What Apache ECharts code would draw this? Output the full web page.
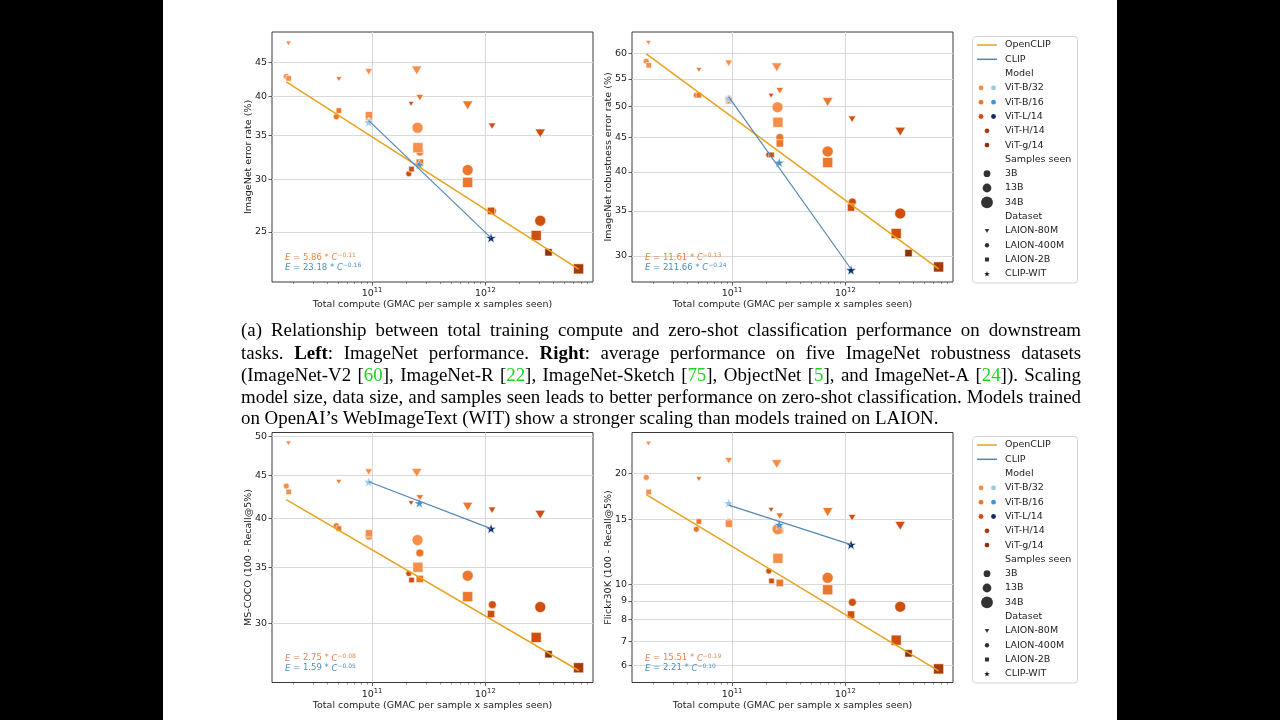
<!DOCTYPE html>
<html>
<head>
<meta charset="utf-8">
<script src="https://cdn.jsdelivr.net/npm/echarts@6.0.0/dist/echarts.min.js"></script>
<style>
html,body{margin:0;padding:0;background:#000;width:1280px;height:720px;overflow:hidden}
#page{position:absolute;left:163px;top:0;width:954px;height:720px;background:#fff}
#chart{position:absolute;left:0;top:0;width:1280px;height:720px}
</style>
</head>
<body>
<div id="page"></div>
<div id="chart"></div>
<script>
// ---------------- DATA ----------------
const runModel = ['ViT-B/32','ViT-B/32','ViT-B/32','ViT-B/16','ViT-B/16','ViT-B/16','ViT-B/32','ViT-B/32','ViT-B/32',
  'ViT-L/14','ViT-L/14','ViT-L/14','ViT-B/16','ViT-B/16','ViT-B/16','ViT-B/32','ViT-B/32','ViT-B/32',
  'ViT-B/16','ViT-B/16','ViT-B/16','ViT-L/14','ViT-L/14','ViT-L/14','ViT-L/14','ViT-L/14','ViT-L/14','ViT-g/14','ViT-H/14'];
const runSamples = ['3B','3B','3B','3B','3B','3B','13B','13B','13B','3B','3B','3B','13B','13B','13B','34B','34B','34B',
  '34B','34B','34B','13B','13B','13B','34B','34B','34B','13B','34B'];
const runDataset = ['LAION-80M','LAION-400M','LAION-2B','LAION-80M','LAION-400M','LAION-2B','LAION-80M','LAION-400M','LAION-2B',
  'LAION-80M','LAION-400M','LAION-2B','LAION-80M','LAION-400M','LAION-2B','LAION-80M','LAION-400M','LAION-2B',
  'LAION-80M','LAION-400M','LAION-2B','LAION-80M','LAION-400M','LAION-2B','LAION-80M','LAION-400M','LAION-2B','LAION-2B','LAION-2B'];
const runCompute = [1.83e10,1.75e10,1.84e10, 5.1e10,4.84e10,5.1e10, 9.35e10,9.4e10,9.4e10,
  2.21e11,2.11e11,2.23e11, 2.64e11,2.64e11,2.64e11, 2.48e11,2.52e11,2.54e11,
  6.98e11,6.98e11,6.98e11, 1.146e12,1.153e12,1.122e12, 3.05e12,3.05e12,2.81e12, 3.61e12, 6.65e12];

const imagenetErr = [48.1,42.9,42.6, 42.5,37.3,38.1, 43.6,37.2,37.5, 39.0,30.6,31.1, 39.85,33.0,31.8, 43.8,35.9,33.5,
  38.8,31.0,29.7, 36.1,26.9,26.9, 35.2,26.0,24.7, 23.3,22.0];
const robustErr = [62.2,58.4,57.6, 56.7,52.0,52.0, 58.0,51.3,51.1, 51.9,42.4,42.4, 52.8,45.0,44.1, 57.2,49.9,47.4,
  50.8,42.9,41.3, 47.9,36.1,35.4, 45.9,34.7,32.4, 30.3,28.9];
const cocoErr = [49.1,43.7,43.0, 44.2,39.2,38.9, 45.4,38.1,38.4, 41.7,34.4,33.8, 42.3,36.4,33.9, 45.3,37.7,35.0,
  41.3,34.2,32.3, 40.9,31.6,30.8, 40.4,31.4,28.9, 27.6,26.6];
const flickrErr = [24.1,19.5,17.8, 19.3,14.1,14.8, 21.65,14.7,14.6, 15.9,10.85,10.2, 15.3,14.0,10.07, 21.2,14.1,11.75,
  15.7,10.4,9.65, 15.15,8.92,8.26, 14.4,8.68,7.04, 6.48,5.88];

const clipModel = ['ViT-B/32','ViT-B/16','ViT-L/14'];
const clipCompute = [9.35e10, 2.61e11, 1.122e12];
const clipImagenet = [36.6, 31.6, 24.5];
const clipRobust = [51.4, 41.3, 28.6];
const clipCoco = [44.2, 41.7, 38.9];
const clipFlickr = [16.6, 14.5, 12.8];

const fitX = [1.75e10, 6.65e12];
const clipFitX = [9.35e10, 1.122e12];
const fitImagenet = [42.1, 21.98], clipFitImagenet = [36.8, 24.5];
const fitRobust = [59.9, 28.7], clipFitRobust = [51.7, 28.7];
const fitCoco = [42.1, 26.4], clipFitCoco = [44.2, 38.9];
const fitFlickr = [17.5, 5.81], clipFitFlickr = [16.4, 12.8];

const openclipCoef = ['5.86','11.61','2.75','15.51'];
const openclipExp = ['−0.11','−0.13','−0.08','−0.19'];
const clipCoef = ['23.18','211.66','1.59','2.21'];
const clipExp = ['−0.16','−0.24','−0.05','−0.10'];

const yNames = ['ImageNet error rate (%)','ImageNet robustness error rate (%)','MS-COCO (100 - Recall@5%)','Flickr30K (100 - Recall@5%)'];
const xName = 'Total compute (GMAC per sample x samples seen)';
const yTicksImagenet = [25,30,35,40,45];
const yTicksRobust = [30,35,40,45,50,55,60];
const yTicksCoco = [30,35,40,45,50];
const yTicksFlickr = [6,7,8,9,10,15,20];
const xMajor = [1e11, 1e12];
const xRange = [1.31e10, 8.91e12];
const yRangeImagenet = [21.02, 50.05];
const yRangeRobust = [27.45, 64.54];
const yRangeCoco = [25.55, 50.57];
const yRangeFlickr = [5.40, 25.83];

const legendModels = ['ViT-B/32','ViT-B/16','ViT-L/14','ViT-H/14','ViT-g/14'];
const legendSamples = ['3B','13B','34B'];
const legendDatasets = ['LAION-80M','LAION-400M','LAION-2B','CLIP-WIT'];

const captionLines = [
 '(a) Relationship between total training compute and zero-shot classification performance on downstream',
 'tasks. *Left*: ImageNet performance. *Right*: average performance on five ImageNet robustness datasets',
 '(ImageNet-V2 [{60}], ImageNet-R [{22}], ImageNet-Sketch [{75}], ObjectNet [{5}], and ImageNet-A [{24}]). Scaling',
 'model size, data size, and samples seen leads to better performance on zero-shot classification. Models trained',
 'on OpenAI’s WebImageText (WIT) show a stronger scaling than models trained on LAION.'
];

// ---------------- STYLE ----------------
const FONT = 'DejaVu Sans';
const TXT = '#1c1c1c';
const modelColor = {'ViT-B/32':'#f68f4b','ViT-B/16':'#ec762a','ViT-L/14':'#cf4f0f','ViT-H/14':'#a93c06','ViT-g/14':'#8c3209'};
const clipColor = {'ViT-B/32':'#9dc7e3','ViT-B/16':'#4a94c8','ViT-L/14':'#0d2f65'};
const sampleSize = {'3B':6,'13B':8,'34B':11};
const OC_LINE = '#e9a21f', CLIP_LINE = '#5387b7';
const OC_TXT = '#e5864c', CLIP_TXT = '#4d8fc6';
const STAR = 'path://M50,0 L61.2,34.5 L97.6,34.5 L68.2,55.9 L79.4,90.5 L50,69.1 L20.6,90.5 L31.8,55.9 L2.4,34.5 L38.8,34.5 Z';
const lg = v => Math.log10(v);

function marker(ds, s) {
  if (ds === 'LAION-80M') return {symbol:'triangle', symbolRotate:180, symbolSize:[s*0.95, s*0.8]};
  if (ds === 'LAION-400M') return {symbol:'circle', symbolSize:s};
  if (ds === 'LAION-2B') return {symbol:'rect', symbolSize:s*0.92};
  return {symbol:STAR, symbolSize:s, symbolKeepAspect:true};
}

const xMinor = [];
[10,11,12].forEach(e => { for (let m = 2; m <= 9; m++) { const v = m*Math.pow(10,e); if (v > xRange[0] && v < xRange[1]) xMinor.push(v); } });

const panels = [
  {left:272, top:32, vals:imagenetErr, clip:clipImagenet, fit:fitImagenet, cfit:clipFitImagenet, yr:yRangeImagenet, yt:yTicksImagenet},
  {left:632, top:32, vals:robustErr, clip:clipRobust, fit:fitRobust, cfit:clipFitRobust, yr:yRangeRobust, yt:yTicksRobust},
  {left:272, top:432.5, vals:cocoErr, clip:clipCoco, fit:fitCoco, cfit:clipFitCoco, yr:yRangeCoco, yt:yTicksCoco},
  {left:632, top:432.5, vals:flickrErr, clip:clipFlickr, fit:fitFlickr, cfit:clipFitFlickr, yr:yRangeFlickr, yt:yTicksFlickr}
];
const GW = 321, GH = 250;

const option = {animation:false, grid:[], xAxis:[], yAxis:[], series:[], graphic:[]};

panels.forEach((p, k) => {
  option.grid.push({left:p.left, top:p.top, width:GW, height:GH, show:true, borderColor:'#3a3a3a', borderWidth:1,
    backgroundColor:'rgba(0,0,0,0)', containLabel:false, outerBoundsMode:'none'});
  option.xAxis.push({type:'value', gridIndex:k, min:lg(xRange[0]), max:lg(xRange[1]), position:'bottom',
    axisLine:{show:false},
    axisTick:{show:true, customValues:xMajor.map(lg), length:3.5, lineStyle:{color:'#333', width:0.8}},
    axisLabel:{customValues:xMajor.map(lg), margin:5,
      formatter: v => '{b|10}{s|' + Math.round(v) + '}',
      rich:{b:{fontSize:9.5, fontFamily:FONT, color:TXT, verticalAlign:'bottom'},
            s:{fontSize:6.8, fontFamily:FONT, color:TXT, verticalAlign:'bottom', padding:[0,0,5,0]}}},
    splitLine:{show:true, lineStyle:{color:'#d9d9d9', width:1}},
    name:xName, nameLocation:'middle', nameGap:18, nameMoveOverlap:false,
    nameTextStyle:{fontSize:9.5, fontFamily:FONT, color:TXT}});
  option.xAxis.push({type:'value', gridIndex:k, min:lg(xRange[0]), max:lg(xRange[1]), position:'bottom',
    axisLine:{show:false}, axisLabel:{show:false}, splitLine:{show:false},
    axisTick:{show:true, customValues:xMinor.map(lg), length:2, lineStyle:{color:'#444', width:0.6}}});
  option.yAxis.push({type:'value', gridIndex:k, min:lg(p.yr[0]), max:lg(p.yr[1]),
    axisLine:{show:false},
    axisTick:{show:true, customValues:p.yt.map(lg), length:3.5, lineStyle:{color:'#333', width:0.8}},
    axisLabel:{customValues:p.yt.map(lg), margin:5, fontSize:9.5, fontFamily:FONT, color:TXT,
      formatter: v => String(Math.round(Math.pow(10, v)))},
    splitLine:{show:true, lineStyle:{color:'#d9d9d9', width:1}},
    name:yNames[k], nameLocation:'middle', nameRotate:90, nameGap:18.5, nameMoveOverlap:false,
    nameTextStyle:{fontSize:9.5, fontFamily:FONT, color:TXT}});

  // OpenCLIP scatter
  option.series.push({type:'scatter', xAxisIndex:2*k, yAxisIndex:k, z:3, silent:true,
    data: runCompute.map((c, i) => Object.assign({
      value:[lg(c), lg(p.vals[i])],
      itemStyle:{color:modelColor[runModel[i]], borderColor:'#fff', borderWidth:0.6, opacity:1}
    }, marker(runDataset[i], sampleSize[runSamples[i]])))});
  // CLIP stars
  option.series.push({type:'scatter', xAxisIndex:2*k, yAxisIndex:k, z:4, silent:true,
    data: clipCompute.map((c, i) => Object.assign({
      value:[lg(c), lg(p.clip[i])],
      itemStyle:{color:clipColor[clipModel[i]], borderColor:'#fff', borderWidth:0.5, opacity:1}
    }, marker('CLIP-WIT', 10.5)))});
  // Fit lines
  option.series.push({type:'line', xAxisIndex:2*k, yAxisIndex:k, z:5, silent:true, symbol:'none',
    data: fitX.map((x, i) => [lg(x), lg(p.fit[i])]), lineStyle:{color:OC_LINE, width:1.5}});
  option.series.push({type:'line', xAxisIndex:2*k, yAxisIndex:k, z:5, silent:true, symbol:'none',
    data: clipFitX.map((x, i) => [lg(x), lg(p.cfit[i])]), lineStyle:{color:CLIP_LINE, width:1.2}});

  // fit annotations
  const mk = (coef, ex, col, dy) => ({type:'text', x:p.left + 13, y:p.top + dy, silent:true, z:10,
    style:{text:'{i|E} = ' + coef + ' * {i|C}{s|' + ex + '}', fontSize:8.5, fontFamily:FONT, fill:col, verticalAlign:'middle',
      rich:{i:{fontStyle:'italic', fontSize:8.5, fontFamily:FONT, fill:col, color:col, verticalAlign:'bottom'},
            s:{fontSize:6, fontFamily:FONT, fill:col, color:col, verticalAlign:'bottom', padding:[0,0,4,0]}}}});
  option.graphic.push(mk(openclipCoef[k], openclipExp[k], OC_TXT, 225.5));
  option.graphic.push(mk(clipCoef[k], clipExp[k], CLIP_TXT, 235.5));
});

// ---------------- LEGENDS ----------------
function legendEls(y0) {
  const els = [];
  const rowY = i => y0 + 8.5 + i * 14.3;
  els.push({type:'rect', shape:{x:972.5, y:y0, width:105, height:246.5, r:3}, style:{fill:'#fff', stroke:'#d4d4d4', lineWidth:1}, z:5});
  const labels = ['OpenCLIP','CLIP','Model'].concat(legendModels, ['Samples seen'], legendSamples, ['Dataset'], legendDatasets);
  labels.forEach((t, i) => els.push({type:'text', x:1005, y:rowY(i), z:6,
    style:{text:t, fontSize:9.5, fontFamily:FONT, fill:TXT, verticalAlign:'middle', align:'left'}}));
  els.push({type:'line', shape:{x1:977, y1:rowY(0), x2:997, y2:rowY(0)}, style:{stroke:OC_LINE, lineWidth:1.5}, z:6});
  els.push({type:'line', shape:{x1:977, y1:rowY(1), x2:997, y2:rowY(1)}, style:{stroke:CLIP_LINE, lineWidth:1.5}, z:6});
  legendModels.forEach((m, j) => {
    const y = rowY(3 + j);
    if (clipColor[m]) {
      els.push({type:'circle', shape:{cx:981, cy:y, r:2.4}, style:{fill:modelColor[m]}, z:6});
      els.push({type:'circle', shape:{cx:993.5, cy:y, r:2.4}, style:{fill:clipColor[m]}, z:6});
    } else {
      els.push({type:'circle', shape:{cx:987, cy:y, r:2.4}, style:{fill:modelColor[m]}, z:6});
    }
  });
  legendSamples.forEach((s, j) => {
    els.push({type:'circle', shape:{cx:987, cy:rowY(9 + j), r:sampleSize[s] / 2 + 0.4}, style:{fill:'#333'}, z:6});
  });
  const dk = '#333';
  let y = rowY(13);
  els.push({type:'polygon', shape:{points:[[984.8, y - 1.9], [989.2, y - 1.9], [987, y + 2]]}, style:{fill:dk}, z:6});
  y = rowY(14);
  els.push({type:'circle', shape:{cx:987, cy:y, r:2.2}, style:{fill:dk}, z:6});
  y = rowY(15);
  els.push({type:'rect', shape:{x:985, y:y - 2, width:4, height:4}, style:{fill:dk}, z:6});
  y = rowY(16);
  const pts = [];
  for (let q = 0; q < 10; q++) {
    const a = -Math.PI / 2 + q * Math.PI / 5, r = q % 2 ? 1.2 : 3;
    pts.push([987 + r * Math.cos(a), y + 0.3 + r * Math.sin(a)]);
  }
  els.push({type:'polygon', shape:{points:pts}, style:{fill:'#111'}, z:6});
  return els;
}
option.graphic = option.graphic.concat(legendEls(36.5), legendEls(436.5));

// ---------------- CAPTION ----------------
const CAP_SIZE = 18.9, CAP_FONT = 'Liberation Serif', CAP_X0 = 241, CAP_X1 = 1081;
const capY = [331, 354, 376.5, 398.5, 419];
const cv = document.createElement('canvas').getContext('2d');
function fstr(b) { return (b ? 'bold ' : '') + CAP_SIZE + 'px "' + CAP_FONT + '"'; }
function meas(t, b) { cv.font = fstr(b); return cv.measureText(t).width; }
captionLines.forEach((line, li) => {
  const words = line.split(' ').map(w => w.split(/(\*[^*]+\*|\{[^}]+\})/).filter(s => s).map(s => {
    if (s[0] === '*') return {t:s.slice(1, -1), b:true, c:'#000'};
    if (s[0] === '{') return {t:s.slice(1, -1), b:false, c:'#1ed41e'};
    return {t:s, b:false, c:'#000'};
  }));
  const ww = words.map(parts => parts.reduce((a, p) => a + meas(p.t, p.b), 0));
  const total = ww.reduce((a, b) => a + b, 0);
  const justify = li < captionLines.length - 1;
  const gap = justify ? (CAP_X1 - CAP_X0 - total) / (words.length - 1) : meas(' ', false);
  let x = CAP_X0;
  words.forEach((parts, wi) => {
    let px = x;
    parts.forEach(p => {
      option.graphic.push({type:'text', x:px, y:capY[li], silent:true, z:10,
        style:{text:p.t, fontSize:CAP_SIZE, fontFamily:CAP_FONT, fontWeight:p.b ? 'bold' : 'normal', fill:p.c, verticalAlign:'middle', align:'left'}});
      px += meas(p.t, p.b);
    });
    x += ww[wi] + gap;
  });
});

const chart = echarts.init(document.getElementById('chart'), null, {renderer:'canvas'});
chart.setOption(option);
</script>
</body>
</html>
